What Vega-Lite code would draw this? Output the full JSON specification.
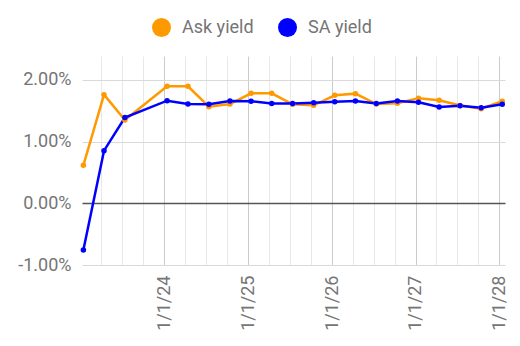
{
  "$schema": "https://vega.github.io/schema/vega-lite/v6.json",
  "width": 423,
  "height": 209,
  "autosize": {"type": "none"},
  "padding": {"left": 82, "top": 56, "right": 15, "bottom": 81},
  "background": "white",
  "config": {
    "view": {"stroke": null},
    "font": "Roboto",
    "axis": {"labelFont": "Roboto", "labelFontSize": 18, "labelColor": "#757575", "domain": false, "ticks": false, "title": null},
    "legend": {"labelFont": "Roboto", "labelFontSize": 18, "labelColor": "#757575"}
  },
  "data": {
    "values": [
      {"date": "2023-01-13", "series": "Ask yield", "value": 0.00616},
      {"date": "2023-04-13", "series": "Ask yield", "value": 0.0176},
      {"date": "2023-07-13", "series": "Ask yield", "value": 0.0135},
      {"date": "2024-01-13", "series": "Ask yield", "value": 0.01896},
      {"date": "2024-04-13", "series": "Ask yield", "value": 0.01896},
      {"date": "2024-07-13", "series": "Ask yield", "value": 0.01566},
      {"date": "2024-10-13", "series": "Ask yield", "value": 0.01609},
      {"date": "2025-01-13", "series": "Ask yield", "value": 0.01783},
      {"date": "2025-04-13", "series": "Ask yield", "value": 0.01783},
      {"date": "2025-07-13", "series": "Ask yield", "value": 0.01605},
      {"date": "2025-10-13", "series": "Ask yield", "value": 0.01588},
      {"date": "2026-01-13", "series": "Ask yield", "value": 0.0175},
      {"date": "2026-04-13", "series": "Ask yield", "value": 0.01777},
      {"date": "2026-07-13", "series": "Ask yield", "value": 0.01609},
      {"date": "2026-10-13", "series": "Ask yield", "value": 0.01623},
      {"date": "2027-01-13", "series": "Ask yield", "value": 0.01704},
      {"date": "2027-04-13", "series": "Ask yield", "value": 0.01669},
      {"date": "2027-07-13", "series": "Ask yield", "value": 0.01585},
      {"date": "2027-10-13", "series": "Ask yield", "value": 0.01533},
      {"date": "2028-01-13", "series": "Ask yield", "value": 0.01653},
      {"date": "2023-01-13", "series": "SA yield", "value": -0.00757},
      {"date": "2023-04-13", "series": "SA yield", "value": 0.00853},
      {"date": "2023-07-13", "series": "SA yield", "value": 0.0139},
      {"date": "2024-01-13", "series": "SA yield", "value": 0.01663},
      {"date": "2024-04-13", "series": "SA yield", "value": 0.01609},
      {"date": "2024-07-13", "series": "SA yield", "value": 0.01605},
      {"date": "2024-10-13", "series": "SA yield", "value": 0.01658},
      {"date": "2025-01-13", "series": "SA yield", "value": 0.01653},
      {"date": "2025-04-13", "series": "SA yield", "value": 0.01618},
      {"date": "2025-07-13", "series": "SA yield", "value": 0.01618},
      {"date": "2025-10-13", "series": "SA yield", "value": 0.0163},
      {"date": "2026-01-13", "series": "SA yield", "value": 0.01647},
      {"date": "2026-04-13", "series": "SA yield", "value": 0.01658},
      {"date": "2026-07-13", "series": "SA yield", "value": 0.01618},
      {"date": "2026-10-13", "series": "SA yield", "value": 0.01658},
      {"date": "2027-01-13", "series": "SA yield", "value": 0.01637},
      {"date": "2027-04-13", "series": "SA yield", "value": 0.01561},
      {"date": "2027-07-13", "series": "SA yield", "value": 0.0158},
      {"date": "2027-10-13", "series": "SA yield", "value": 0.0155},
      {"date": "2028-01-13", "series": "SA yield", "value": 0.01605}
    ]
  },
  "mark": {"type": "line", "strokeWidth": 2.5, "point": {"filled": true, "size": 30}},
  "encoding": {
    "x": {
      "field": "date",
      "type": "temporal",
      "scale": {"type": "utc", "domain": ["2023-01-07", "2028-01-25"]},
      "axis": {
        "tickCount": {"interval": "month", "step": 3},
        "labelAngle": 270,
        "labelPadding": 10,
        "labelExpr": "utcFormat(datum.value, '%m') == '01' ? utcFormat(datum.value, '%-m/%-d/%y') : ''",
        "gridColor": {"condition": {"test": "utcFormat(datum.value, '%m') == '01'", "value": "#cccccc"}, "value": "#e8e8e8"},
        "labelOverlap": false,
        "labelBound": false,
        "labelFlush": false
      }
    },
    "y": {
      "field": "value",
      "type": "quantitative",
      "scale": {"domain": [-0.01, 0.02387], "nice": false, "zero": false},
      "axis": {
        "values": [-0.01, 0, 0.01, 0.02],
        "labelExpr": "replace(format(datum.value, '.2%'), '\u2212', '-')",
        "labelPadding": 11,
        "gridColor": {"condition": {"test": "datum.value == 0", "value": "#555555"}, "value": "#d9d9d9"},
        "gridWidth": {"condition": {"test": "datum.value == 0", "value": 1.5}, "value": 1}
      }
    },
    "color": {
      "field": "series",
      "type": "nominal",
      "scale": {"domain": ["Ask yield", "SA yield"], "range": ["#ff9900", "#0000ff"]},
      "legend": {
        "title": null,
        "orient": "none",
        "direction": "horizontal",
        "legendX": 70,
        "legendY": -38,
        "symbolType": "circle",
        "symbolSize": 361,
        "symbolStrokeWidth": 0,
        "labelOffset": 11,
        "columnPadding": 24,
        "encode": {"symbols": {"update": {"fill": {"scale": "color", "field": "value"}, "stroke": {"value": "transparent"}}}}
      }
    }
  }
}
